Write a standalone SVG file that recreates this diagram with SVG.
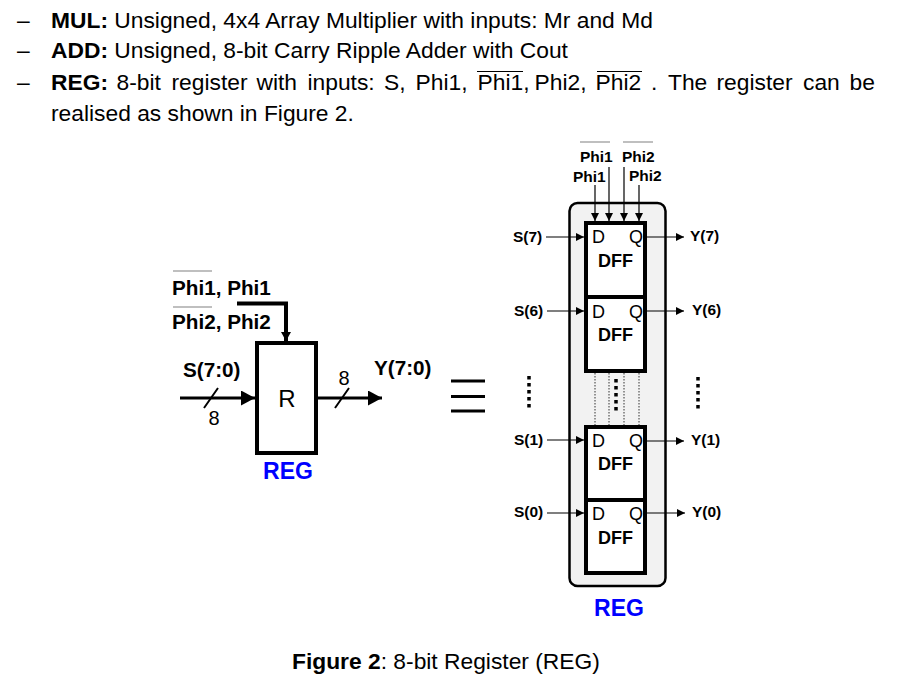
<svg xmlns="http://www.w3.org/2000/svg" width="900" height="682" viewBox="0 0 900 682">
<style>
text{font-family:"Liberation Sans",Arial,sans-serif;fill:#000}
.p{font-size:22.800px}
.b{font-weight:bold}
.l{font-size:15.500px;font-weight:bold}
.m{font-size:20.700px;font-weight:bold}
.n{font-size:20px;text-anchor:middle}
.d{font-size:18px}
.f{font-size:18px;font-weight:bold;text-anchor:middle}
.dff{fill:#fff;stroke:#000;stroke-width:4}
.w{fill:none;stroke:#000;stroke-width:1.200}
.bar{stroke:#808080;stroke-width:1.200;fill:none}
.dot{stroke:#333;stroke-width:1;stroke-dasharray:1.500 1.500;fill:none}
.sq{stroke:#000;stroke-width:3.500;stroke-dasharray:3.500 3.500;fill:none}
.reg{font-size:23px;font-weight:bold;fill:#0000ff;text-anchor:middle}
</style>
<defs>
<marker id="a" markerUnits="userSpaceOnUse" markerWidth="10" markerHeight="10" refX="8" refY="4" orient="auto"><path d="M0 0L8 4L0 8z" fill="#000"/></marker>
<marker id="A" markerUnits="userSpaceOnUse" markerWidth="16" markerHeight="16" refX="14" refY="7.500" orient="auto"><path d="M0 0L14 7.500L0 15z" fill="#000"/></marker>
<marker id="v" markerUnits="userSpaceOnUse" markerWidth="12" markerHeight="12" refX="9" refY="5" orient="auto"><path d="M0 0L9 5L0 10z" fill="#000"/></marker>
</defs>

<g id="body-text">
<text class="p" x="17" y="28">–</text>
<text class="p" x="51" y="28"><tspan class="b">MUL:</tspan> Unsigned, 4x4 Array Multiplier with inputs: Mr and Md</text>
<text class="p" x="17" y="58">–</text>
<text class="p" x="51" y="58"><tspan class="b">ADD:</tspan> Unsigned, 8-bit Carry Ripple Adder with Cout</text>
<text class="p" x="17" y="90">–</text>
<text class="p b" x="51" y="90">REG:</text>
<text class="p" x="116.500" y="90">8-bit</text>
<text class="p" x="171.500" y="90">register</text>
<text class="p" x="256.500" y="90">with</text>
<text class="p" x="307.500" y="90">inputs:</text>
<text class="p" x="384" y="90">S,</text>
<text class="p" x="415.500" y="90">Phi1,</text>
<text class="p" x="477.500" y="90">Phi1,</text>
<text class="p" x="534.500" y="90">Phi2,</text>
<text class="p" x="595.500" y="90">Phi2</text>
<text class="p" x="651" y="90">.</text>
<text class="p" x="668" y="90">The</text>
<text class="p" x="716.500" y="90">register</text>
<text class="p" x="803" y="90">can</text>
<text class="p" x="849.500" y="90">be</text>
<path d="M477 71.500H523M597 71.500H642" stroke="#000" stroke-width="1" fill="none"/>
<text class="p" x="51" y="121">realised as shown in Figure 2.</text>
</g>

<g id="reg-symbol">
<rect x="257" y="343" width="59" height="110" fill="#fff" stroke="#000" stroke-width="4"/>
<text x="287" y="407" font-size="24" text-anchor="middle">R</text>
<text class="reg" x="288" y="479">REG</text>
</g>

<g id="reg-labels">
<path class="bar" d="M173 271H212M173 307H212"/>
<text class="m" x="172" y="295">Phi1, Phi1</text>
<text class="m" x="172" y="329">Phi2, Phi2</text>
<text class="m" x="183" y="377">S(7:0)</text>
<text class="m" x="374" y="375">Y(7:0)</text>
<text class="n" x="214" y="425">8</text>
<text class="n" x="344" y="385">8</text>
</g>

<g id="equivalent">
<path d="M451 381H485M451 396.500H485M451 411H485" stroke="#000" stroke-width="3" fill="none"/>
</g>

<g id="reg-box">
<rect x="569.500" y="203" width="96" height="383" rx="8" fill="#f2f2f2" stroke="#000" stroke-width="2.500"/>
<text class="reg" x="619" y="616">REG</text>
<path class="dot" d="M595 373V425M609 373V425M624 373V425M639 373V425"/>
<path class="sq" d="M616 379V414"/>
</g>

<g id="dff7"><rect class="dff" x="586" y="223" width="59" height="74"/><text class="d" x="592" y="243">D</text><text class="d" x="629" y="243">Q</text><text class="f" x="615.500" y="267">DFF</text></g>
<g id="dff6"><rect class="dff" x="586" y="297" width="59" height="74"/><text class="d" x="592" y="318">D</text><text class="d" x="629" y="318">Q</text><text class="f" x="615.500" y="341">DFF</text></g>
<g id="dff1"><rect class="dff" x="586" y="427" width="59" height="73"/><text class="d" x="592" y="447">D</text><text class="d" x="629" y="447">Q</text><text class="f" x="615.500" y="470">DFF</text></g>
<g id="dff0"><rect class="dff" x="586" y="500" width="59" height="73"/><text class="d" x="592" y="520">D</text><text class="d" x="629" y="520">Q</text><text class="f" x="615.500" y="544">DFF</text></g>

<g id="dff-labels">
<path class="bar" d="M580 142H610M623 142H653"/>
<text class="l" x="580" y="162">Phi1</text>
<text class="l" x="622" y="162">Phi2</text>
<text class="l" x="573" y="182">Phi1</text>
<text class="l" x="629" y="181">Phi2</text>
<text class="l" x="513" y="242">S(7)</text>
<text class="l" x="514" y="316">S(6)</text>
<text class="l" x="514" y="445">S(1)</text>
<text class="l" x="514" y="517">S(0)</text>
<text class="l" x="690" y="241">Y(7)</text>
<text class="l" x="692" y="315">Y(6)</text>
<text class="l" x="691" y="445">Y(1)</text>
<text class="l" x="692" y="517">Y(0)</text>
<path class="sq" d="M529 376V411M698 377V412"/>
</g>

<g id="caption">
<text x="292" y="669" font-size="22.800"><tspan class="b">Figure 2</tspan>: 8-bit Register (REG)</text>
</g>

<g id="connectors">
<path d="M180 398H255" stroke="#000" stroke-width="3" fill="none" marker-end="url(#A)"/>
<path d="M317 398H382" stroke="#000" stroke-width="3" fill="none" marker-end="url(#A)"/>
<path d="M204 408L218 388M335 408L349 388" stroke="#000" stroke-width="2" fill="none"/>
<path d="M237 303.500H286V341" stroke="#000" stroke-width="4" fill="none" marker-end="url(#v)"/>
<path class="w" d="M595 185V221" marker-end="url(#a)"/>
<path class="w" d="M609 167V221" marker-end="url(#a)"/>
<path class="w" d="M624 167V221" marker-end="url(#a)"/>
<path class="w" d="M639 185V221" marker-end="url(#a)"/>
<path class="w" d="M546 237H584" marker-end="url(#a)"/>
<path class="w" d="M547 311H584" marker-end="url(#a)"/>
<path class="w" d="M547 440H584" marker-end="url(#a)"/>
<path class="w" d="M547 513H584" marker-end="url(#a)"/>
<path class="w" d="M647 237H684" marker-end="url(#a)"/>
<path class="w" d="M647 311H684" marker-end="url(#a)"/>
<path class="w" d="M647 441H684" marker-end="url(#a)"/>
<path class="w" d="M647 513H685" marker-end="url(#a)"/>
</g>
</svg>
